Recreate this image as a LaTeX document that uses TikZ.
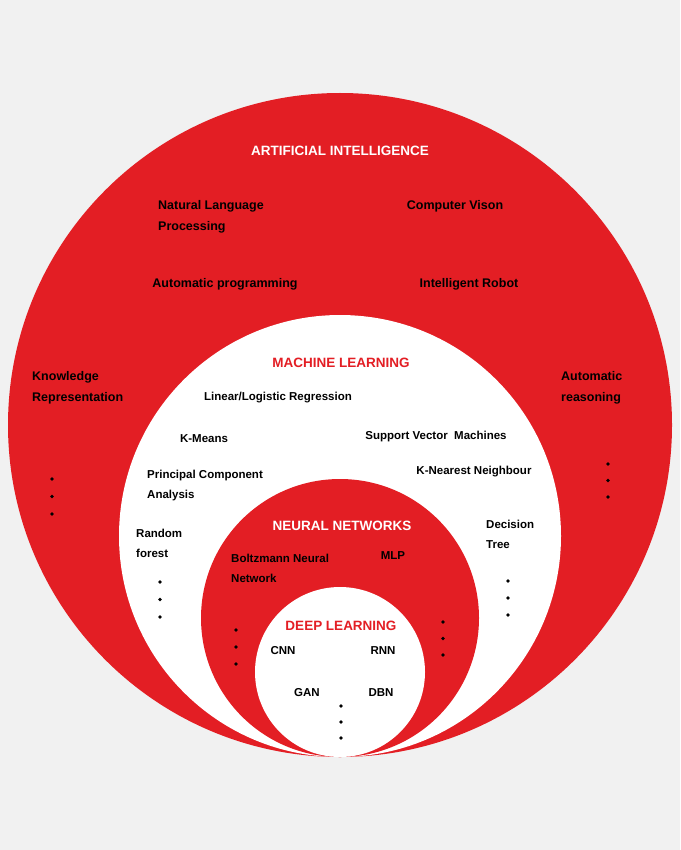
\documentclass[tikz,border=0pt]{standalone}
\usepackage{fontspec}
\setmainfont{Liberation Sans}
\definecolor{aired}{HTML}{E31E24}
\definecolor{bg}{HTML}{F1F1F1}
\begin{document}
\begin{tikzpicture}[x=1pt,y=-1pt,
  lbl/.style={font=\bfseries\fontsize{12.5}{21}\selectfont,inner sep=0pt,align=left},
  sml/.style={font=\bfseries\fontsize{11.5}{20}\selectfont,inner sep=0pt,align=left},
  head/.style={font=\bfseries\fontsize{13.5}{16}\selectfont,inner sep=0pt},
  dot/.style={circle,fill=black,inner sep=0pt,minimum size=3.6pt}]
\fill[bg] (0,0) rectangle (680,850);
\useasboundingbox (0,0) rectangle (680,850);
\fill[aired] (340,425) circle (332);
\fill[white] (340,536) circle (221);
\fill[aired] (340,618) circle (139);
\fill[white] (340,672) circle (85);
% AI
\node[head,white] (ai) at (340,151) {ARTIFICIAL INTELLIGENCE};
\node[lbl,anchor=west] (nlp) at (158,217) {Natural Language\\Processing};
\node[lbl] (cv) at (455,206) {Computer Vison};
\node[lbl] (ap) at (225,284) {Automatic programming};
\node[lbl] (ir) at (469,284) {Intelligent Robot};
\node[lbl,anchor=west] (kr) at (32,388) {Knowledge\\Representation};
\node[lbl,anchor=west] (ar) at (561,388) {Automatic\\reasoning};
% ML
\node[head,aired] (ml) at (341,363) {MACHINE LEARNING};
\node[sml] (lr) at (278,398) {Linear/Logistic Regression};
\node[sml] (km) at (204,439) {K-Means};
\node[sml] (svm) at (436,437) {Support Vector\ \ Machines};
\node[sml,anchor=west] (pca) at (147,486) {Principal Component\\Analysis};
\node[sml] (knn) at (474,472) {K-Nearest Neighbour};
\node[sml,anchor=west] (rf) at (136,543) {Random\\forest};
\node[sml,anchor=west] (dt) at (486,534) {Decision\\Tree};
% NN
\node[head,white] (nn) at (342,526) {NEURAL NETWORKS};
\node[sml,anchor=west] (bnn) at (231,568) {Boltzmann Neural\\Network};
\node[sml] (mlp) at (393,556) {MLP};
% DL
\node[head,aired] (dl) at (341,626) {DEEP LEARNING};
\node[sml] (cnn) at (283,651) {CNN};
\node[sml] (rnn) at (383,651) {RNN};
\node[sml] (gan) at (307,693) {GAN};
\node[sml] (dbn) at (381,693) {DBN};
% dots
\foreach \x/\a/\b in {52/479/514, 608/464/497, 160/582/617, 508/581/615, 236/630/664, 443/622/655, 341/706/738}{
  \node[dot] (d\x a) at (\x,\a) {};
  \node[dot] (d\x b) at (\x,{(\a+\b)/2}) {};
  \node[dot] (d\x c) at (\x,\b) {};
}
\end{tikzpicture}
\end{document}
